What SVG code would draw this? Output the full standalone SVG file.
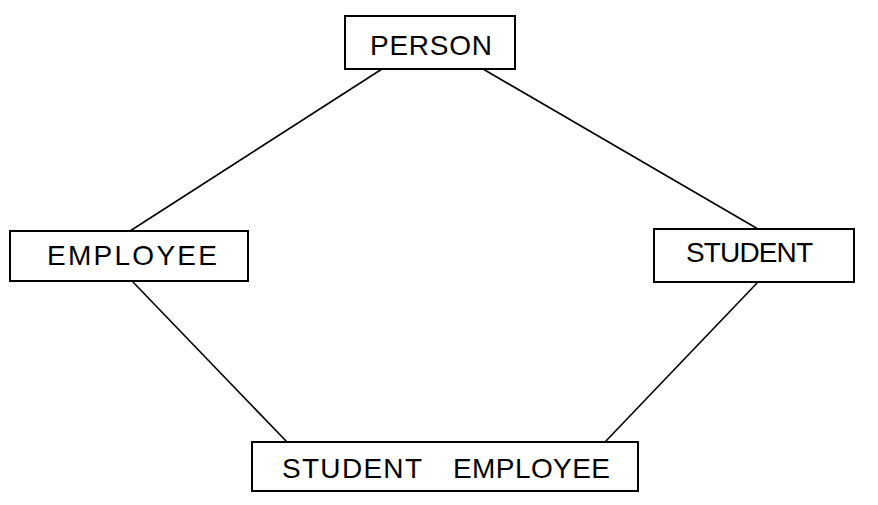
<svg xmlns="http://www.w3.org/2000/svg" width="878" height="505" viewBox="0 0 878 505">
<style>
.box{fill:#fff;stroke:#000;stroke-width:2}
.lbl{font-family:"Liberation Sans",Arial,sans-serif;font-size:28px;fill:#000}
.conn{stroke:#000;stroke-width:1.6;fill:none}
</style>
<rect width="878" height="505" fill="#fff"/>
<g id="connectors">
<line class="conn" x1="382" y1="69" x2="130" y2="231"/>
<line class="conn" x1="483" y1="69" x2="758" y2="229"/>
<line class="conn" x1="132" y1="281" x2="287" y2="442"/>
<line class="conn" x1="758" y1="282" x2="605" y2="442"/>
</g>
<g id="person">
<rect class="box" x="345" y="16" width="170" height="53"/>
<text class="lbl" x="370" y="55" textLength="122" lengthAdjust="spacing">PERSON</text>
</g>
<g id="employee">
<rect class="box" x="10" y="231" width="238" height="50"/>
<text class="lbl" x="47" y="265" textLength="170" lengthAdjust="spacing">EMPLOYEE</text>
</g>
<g id="student">
<rect class="box" x="654" y="229" width="200" height="53"/>
<text class="lbl" x="686" y="262" textLength="127" lengthAdjust="spacing">STUDENT</text>
</g>
<g id="student-employee">
<rect class="box" x="252" y="442" width="386" height="49"/>
<text class="lbl" y="478"><tspan x="282" textLength="140" lengthAdjust="spacing">STUDENT</tspan><tspan x="453" textLength="157" lengthAdjust="spacing">EMPLOYEE</tspan></text>
</g>
</svg>
